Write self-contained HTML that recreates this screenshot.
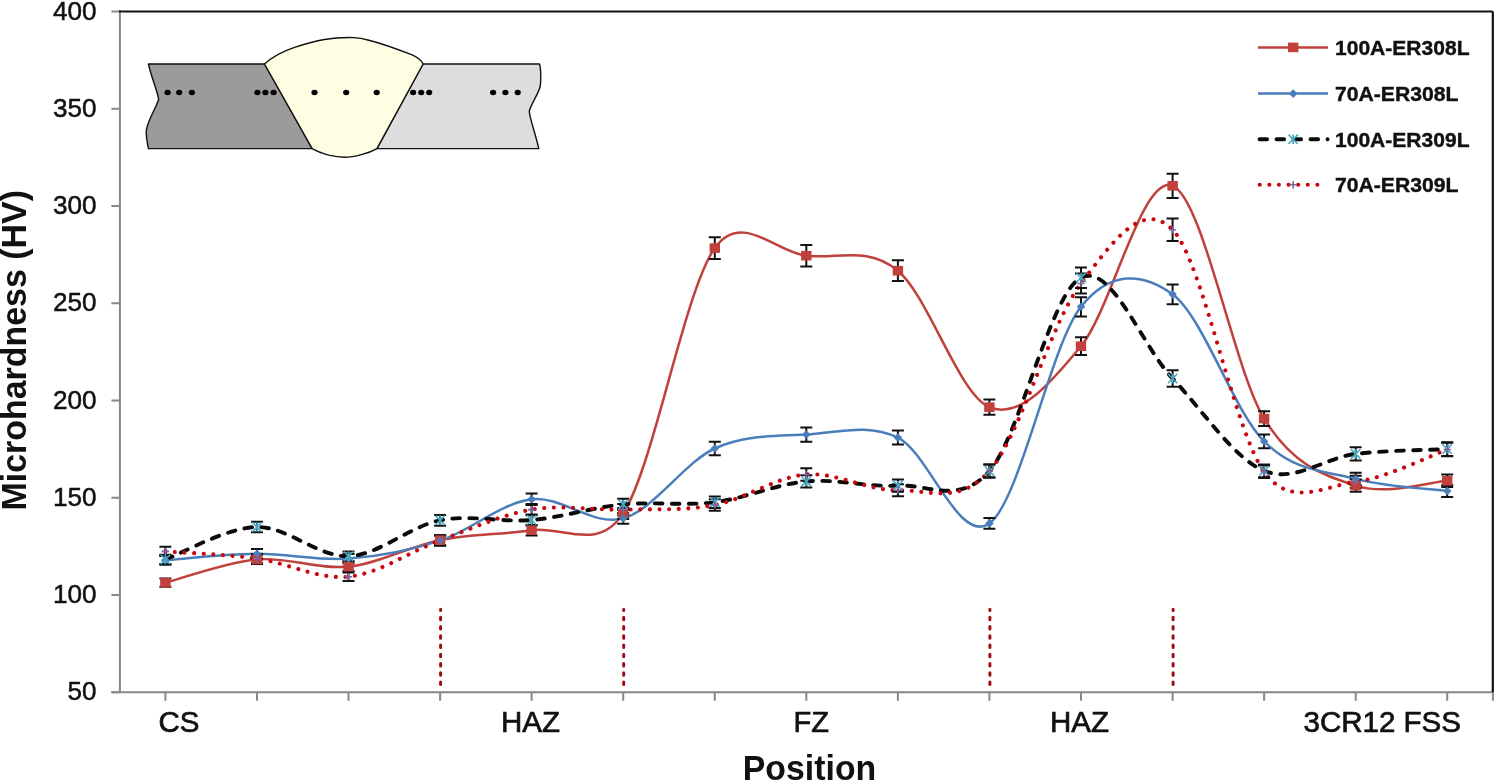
<!DOCTYPE html>
<html><head><meta charset="utf-8"><title>Microhardness</title>
<style>
html,body{margin:0;padding:0;background:#fff}
svg{display:block}
text{font-family:"Liberation Sans",sans-serif;fill:#111}
.b{font-weight:bold}
</style></head><body>
<svg width="1495" height="781" viewBox="0 0 1495 781">
<rect width="1495" height="781" fill="#fff"/>
<g stroke="#878787" stroke-width="2" fill="none">
<path d="M119.9 10.5V692.2M111.4 692.2H1493"/>
<path d="M111.4 692.2H120M111.4 595.0H120M111.4 497.7H120M111.4 400.5H120M111.4 303.2H120M111.4 206.0H120M111.4 108.8H120M111.4 11.5H120"/>
<path d="M165.4 692V700.8M257.0 692V700.8M348.5 692V700.8M440.1 692V700.8M531.6 692V700.8M623.2 692V700.8M714.8 692V700.8M806.3 692V700.8M897.9 692V700.8M989.4 692V700.8M1081.0 692V700.8M1172.6 692V700.8M1264.1 692V700.8M1355.7 692V700.8M1447.2 692V700.8M1492.9 692V700.8"/>
</g>
<path d="M119 11.5H1491.8Q1492.8 11.5 1492.8 12.5V692" stroke="#111" stroke-width="2.2" fill="none"/>
<text x="67.5" y="700.2" font-size="26.6" stroke="#111" stroke-width="0.5" textLength="29" lengthAdjust="spacingAndGlyphs">50</text>
<text x="53" y="603.0" font-size="26.6" stroke="#111" stroke-width="0.5" textLength="43.6" lengthAdjust="spacingAndGlyphs">100</text>
<text x="53" y="505.7" font-size="26.6" stroke="#111" stroke-width="0.5" textLength="43.6" lengthAdjust="spacingAndGlyphs">150</text>
<text x="53" y="408.5" font-size="26.6" stroke="#111" stroke-width="0.5" textLength="43.6" lengthAdjust="spacingAndGlyphs">200</text>
<text x="53" y="311.2" font-size="26.6" stroke="#111" stroke-width="0.5" textLength="43.6" lengthAdjust="spacingAndGlyphs">250</text>
<text x="53" y="214.0" font-size="26.6" stroke="#111" stroke-width="0.5" textLength="43.6" lengthAdjust="spacingAndGlyphs">300</text>
<text x="53" y="116.8" font-size="26.6" stroke="#111" stroke-width="0.5" textLength="43.6" lengthAdjust="spacingAndGlyphs">350</text>
<text x="53" y="19.5" font-size="26.6" stroke="#111" stroke-width="0.5" textLength="43.6" lengthAdjust="spacingAndGlyphs">400</text>
<text class="b" font-size="35.3" transform="translate(26.4 510.5) rotate(-90)" textLength="320.5" lengthAdjust="spacingAndGlyphs">Microhardness (HV)</text>
<text class="b" font-size="35.3" x="742.8" y="780.2" textLength="133.5" lengthAdjust="spacingAndGlyphs">Position</text>
<text x="158.5" y="731.6" font-size="30" stroke="#111" stroke-width="0.7" textLength="41.0" lengthAdjust="spacingAndGlyphs">CS</text>
<text x="501.0" y="731.6" font-size="30" stroke="#111" stroke-width="0.7" textLength="59.0" lengthAdjust="spacingAndGlyphs">HAZ</text>
<text x="793.5" y="731.6" font-size="30" stroke="#111" stroke-width="0.7" textLength="35.5" lengthAdjust="spacingAndGlyphs">FZ</text>
<text x="1050.0" y="731.6" font-size="30" stroke="#111" stroke-width="0.7" textLength="59.0" lengthAdjust="spacingAndGlyphs">HAZ</text>
<text x="1303.5" y="731.6" font-size="30" stroke="#111" stroke-width="0.7" textLength="157.5" lengthAdjust="spacingAndGlyphs">3CR12 FSS</text>
<g stroke="#111" stroke-width="1.4" stroke-linejoin="round">
<path d="M148.4 64H264.5L312.2 148.6H148.4C146.9 141 145.8 133 146.5 129.5C148 120 156 108 158.7 99.3C157 90 152 79 148.4 64Z" fill="#9b9b9b"/>
<path d="M423.1 64H539.5C541 68 541 80 540.3 86C539 93 531 104 529.3 111C529 116 535 132 538.8 148.6H376.9Z" fill="#dddddd"/>
<path d="M264.5 64C272 57 285 50.5 294.6 47.3C305 44 316 41 324.3 39.5C333 38 347 37.4 354 37.6C360 38 365 39.2 368.9 40.2C378 42.5 392 47 411.6 54.7C417 57 421.5 60.5 423.1 64L376.9 148.6C372 151.5 366 153.5 361.4 154.6C355 156.3 350 157.2 344.7 157.2C339 157.2 334 156.4 329.9 155.4C325 154 321 152.8 317.8 151.3C315.5 150.3 313.5 149 312.2 148.6Z" fill="#fffde2"/>
</g>
<ellipse cx="167.6" cy="92.5" rx="3.1" ry="2.7" fill="#000"/>
<ellipse cx="179.2" cy="92.5" rx="3.1" ry="2.7" fill="#000"/>
<ellipse cx="191.9" cy="92.5" rx="3.1" ry="2.7" fill="#000"/>
<ellipse cx="257.4" cy="92.5" rx="3.1" ry="2.7" fill="#000"/>
<ellipse cx="265.4" cy="92.5" rx="3.1" ry="2.7" fill="#000"/>
<ellipse cx="273.6" cy="92.5" rx="3.1" ry="2.7" fill="#000"/>
<ellipse cx="314.5" cy="92.5" rx="3.1" ry="2.7" fill="#000"/>
<ellipse cx="346.2" cy="92.5" rx="3.1" ry="2.7" fill="#000"/>
<ellipse cx="376.7" cy="92.5" rx="3.1" ry="2.7" fill="#000"/>
<ellipse cx="413.1" cy="92.5" rx="3.1" ry="2.7" fill="#000"/>
<ellipse cx="421.2" cy="92.5" rx="3.1" ry="2.7" fill="#000"/>
<ellipse cx="429.2" cy="92.5" rx="3.1" ry="2.7" fill="#000"/>
<ellipse cx="493.1" cy="92.5" rx="3.1" ry="2.7" fill="#000"/>
<ellipse cx="505.4" cy="92.5" rx="3.1" ry="2.7" fill="#000"/>
<ellipse cx="517.7" cy="92.5" rx="3.1" ry="2.7" fill="#000"/>
<path d="M440.6 684.5V609.2" stroke="#a00c14" stroke-width="3" stroke-linecap="round" stroke-dasharray="2.6 6.65" fill="none"/>
<path d="M623.7 684.5V609.2" stroke="#a00c14" stroke-width="3" stroke-linecap="round" stroke-dasharray="2.6 6.65" fill="none"/>
<path d="M989.9 684.5V609.2" stroke="#a00c14" stroke-width="3" stroke-linecap="round" stroke-dasharray="2.6 6.65" fill="none"/>
<path d="M1173.1 684.5V609.2" stroke="#a00c14" stroke-width="3" stroke-linecap="round" stroke-dasharray="2.6 6.65" fill="none"/>
<path d="M165.40 582.70 C180.66 578.82 226.44 562.08 256.96 559.40 C287.48 556.72 318.00 569.80 348.52 566.60 C379.04 563.40 409.56 546.27 440.08 540.20 C470.60 534.13 501.12 534.67 531.64 530.20 C562.16 525.73 597.86 552.44 623.20 513.40 C653.72 466.38 684.24 291.05 714.76 248.10 C741.37 210.65 775.80 251.93 806.32 255.70 C836.84 259.47 867.36 245.45 897.88 270.70 C928.40 295.95 958.92 394.62 989.44 407.20 C1019.96 419.78 1050.48 383.10 1081.00 346.20 C1111.52 309.30 1142.04 173.73 1172.56 185.80 C1203.08 197.87 1233.60 368.63 1264.12 418.60 C1293.69 467.01 1325.16 475.23 1355.68 485.60 C1386.20 495.97 1431.98 481.60 1447.24 480.80" stroke="#c0403c" stroke-width="2.5" fill="none"/>
<path d="M165.40 560.20 C180.66 559.13 226.44 554.07 256.96 553.80 C287.48 553.53 318.00 560.80 348.52 558.60 C379.04 556.40 409.56 550.48 440.08 540.60 C470.60 530.72 501.12 503.00 531.64 499.30 C562.16 495.60 592.68 526.87 623.20 518.40 C653.72 509.93 684.24 462.47 714.76 448.50 C745.28 434.53 775.80 436.42 806.32 434.60 C836.84 432.78 867.36 422.80 897.88 437.60 C928.40 452.40 958.92 545.20 989.44 523.40 C1019.96 501.60 1050.48 344.98 1081.00 306.80 C1109.85 270.71 1142.04 271.87 1172.56 294.30 C1203.08 316.73 1233.60 410.63 1264.12 441.40 C1294.64 472.17 1325.16 470.63 1355.68 478.90 C1386.20 487.17 1431.98 488.98 1447.24 491.00" stroke="#4a7ebb" stroke-width="2.5" fill="none"/>
<path d="M165.40 559.40 C180.66 554.00 226.44 527.53 256.96 527.00 C287.48 526.47 318.00 557.32 348.52 556.20 C379.04 555.08 409.56 526.33 440.08 520.30 C470.60 514.27 501.12 522.65 531.64 520.00 C562.16 517.35 592.68 507.37 623.20 504.40 C653.72 501.43 684.24 506.03 714.76 502.20 C745.28 498.37 775.80 484.17 806.32 481.40 C836.84 478.63 867.36 487.33 897.88 485.60 C928.40 483.87 958.92 505.65 989.44 471.00 C1019.96 436.35 1050.48 293.12 1081.00 277.70 C1111.52 262.28 1142.04 346.32 1172.56 378.50 C1203.08 410.68 1233.60 458.23 1264.12 470.80 C1294.64 483.37 1325.16 457.52 1355.68 453.90 C1386.20 450.28 1431.98 449.90 1447.24 449.10" stroke="#0a0a0a" stroke-width="3.9" stroke-linecap="round" stroke-dasharray="7.6 9.4" fill="none"/>
<path d="M165.40 551.40 C180.66 552.60 226.44 554.38 256.96 558.60 C287.48 562.82 318.00 579.73 348.52 576.70 C379.04 573.67 409.56 551.58 440.08 540.40 C470.60 529.22 501.12 514.73 531.64 509.60 C562.16 504.47 592.68 510.37 623.20 509.60 C653.72 508.83 684.24 510.85 714.76 505.00 C745.28 499.15 775.80 476.97 806.32 474.50 C836.84 472.03 867.36 490.78 897.88 490.20 C928.40 489.62 958.92 505.45 989.44 471.00 C1019.96 436.55 1050.48 323.72 1081.00 283.50 C1111.52 243.28 1142.04 198.32 1172.56 229.70 C1203.08 261.08 1233.60 429.78 1264.12 471.80 C1291.18 509.06 1325.16 485.52 1355.68 481.80 C1386.20 478.08 1431.98 454.88 1447.24 449.50" stroke="#c8080e" stroke-width="4.1" stroke-dasharray="0.01 9.6" stroke-linecap="round" fill="none"/>
<path d="M165.4 578.6V586.8M159.4 578.6H171.4M159.4 586.8H171.4M257.0 554.8V564.0M251.0 554.8H263.0M251.0 564.0H263.0M348.5 562.2V571.0M342.5 562.2H354.5M342.5 571.0H354.5M440.1 535.2V545.2M434.1 535.2H446.1M434.1 545.2H446.1M531.6 525.0V535.4M525.6 525.0H537.6M525.6 535.4H537.6M623.2 507.9V518.9M617.2 507.9H629.2M617.2 518.9H629.2M714.8 237.3V258.9M708.8 237.3H720.8M708.8 258.9H720.8M806.3 245.0V266.4M800.3 245.0H812.3M800.3 266.4H812.3M897.9 260.3V281.1M891.9 260.3H903.9M891.9 281.1H903.9M989.4 399.6V414.8M983.4 399.6H995.4M983.4 414.8H995.4M1081.0 337.3V355.1M1075.0 337.3H1087.0M1075.0 355.1H1087.0M1172.6 173.7V197.9M1166.6 173.7H1178.6M1166.6 197.9H1178.6M1264.1 411.2V426.0M1258.1 411.2H1270.1M1258.1 426.0H1270.1M1355.7 479.5V491.7M1349.7 479.5H1361.7M1349.7 491.7H1361.7M1447.2 474.6V487.0M1441.2 474.6H1453.2M1441.2 487.0H1453.2" stroke="#111" stroke-width="2.0" fill="none"/>
<path d="M165.4 555.6V564.8M159.4 555.6H171.4M159.4 564.8H171.4M257.0 549.1V558.5M251.0 549.1H263.0M251.0 558.5H263.0M348.5 554.0V563.2M342.5 554.0H354.5M342.5 563.2H354.5M440.1 535.6V545.6M434.1 535.6H446.1M434.1 545.6H446.1M531.6 493.5V505.1M525.6 493.5H537.6M525.6 505.1H537.6M623.2 513.0V523.8M617.2 513.0H629.2M617.2 523.8H629.2M714.8 441.7V455.3M708.8 441.7H720.8M708.8 455.3H720.8M806.3 427.5V441.7M800.3 427.5H812.3M800.3 441.7H812.3M897.9 430.6V444.6M891.9 430.6H903.9M891.9 444.6H903.9M989.4 518.1V528.7M983.4 518.1H995.4M983.4 528.7H995.4M1081.0 297.2V316.4M1075.0 297.2H1087.0M1075.0 316.4H1087.0M1172.6 284.4V304.2M1166.6 284.4H1178.6M1166.6 304.2H1178.6M1264.1 434.5V448.3M1258.1 434.5H1270.1M1258.1 448.3H1270.1M1355.7 472.7V485.1M1349.7 472.7H1361.7M1349.7 485.1H1361.7M1447.2 485.0V497.0M1441.2 485.0H1453.2M1441.2 497.0H1453.2" stroke="#111" stroke-width="2.0" fill="none"/>
<path d="M165.4 554.8V564.0M159.4 554.8H171.4M159.4 564.0H171.4M257.0 521.8V532.2M251.0 521.8H263.0M251.0 532.2H263.0M348.5 551.5V560.9M342.5 551.5H354.5M342.5 560.9H354.5M440.1 514.9V525.7M434.1 514.9H446.1M434.1 525.7H446.1M531.6 514.6V525.4M525.6 514.6H537.6M525.6 525.4H537.6M623.2 498.7V510.1M617.2 498.7H629.2M617.2 510.1H629.2M714.8 496.5V507.9M708.8 496.5H720.8M708.8 507.9H720.8M806.3 475.3V487.5M800.3 475.3H812.3M800.3 487.5H812.3M897.9 479.5V491.7M891.9 479.5H903.9M891.9 491.7H903.9M989.4 464.6V477.4M983.4 464.6H995.4M983.4 477.4H995.4M1081.0 267.5V287.9M1075.0 267.5H1087.0M1075.0 287.9H1087.0M1172.6 370.3V386.7M1166.6 370.3H1178.6M1166.6 386.7H1178.6M1264.1 464.4V477.2M1258.1 464.4H1270.1M1258.1 477.2H1270.1M1355.7 447.2V460.6M1349.7 447.2H1361.7M1349.7 460.6H1361.7M1447.2 442.3V455.9M1441.2 442.3H1453.2M1441.2 455.9H1453.2" stroke="#111" stroke-width="2.0" fill="none"/>
<path d="M165.4 546.7V556.1M159.4 546.7H171.4M159.4 556.1H171.4M257.0 554.0V563.2M251.0 554.0H263.0M251.0 563.2H263.0M348.5 572.5V580.9M342.5 572.5H354.5M342.5 580.9H354.5M440.1 535.4V545.4M434.1 535.4H446.1M434.1 545.4H446.1M531.6 504.0V515.2M525.6 504.0H537.6M525.6 515.2H537.6M623.2 504.0V515.2M617.2 504.0H629.2M617.2 515.2H629.2M714.8 499.3V510.7M708.8 499.3H720.8M708.8 510.7H720.8M806.3 468.2V480.8M800.3 468.2H812.3M800.3 480.8H812.3M897.9 484.2V496.2M891.9 484.2H903.9M891.9 496.2H903.9M989.4 464.6V477.4M983.4 464.6H995.4M983.4 477.4H995.4M1081.0 273.4V293.6M1075.0 273.4H1087.0M1075.0 293.6H1087.0M1172.6 218.5V240.9M1166.6 218.5H1178.6M1166.6 240.9H1178.6M1264.1 465.5V478.1M1258.1 465.5H1270.1M1258.1 478.1H1270.1M1355.7 475.7V487.9M1349.7 475.7H1361.7M1349.7 487.9H1361.7M1447.2 442.7V456.3M1441.2 442.7H1453.2M1441.2 456.3H1453.2" stroke="#111" stroke-width="2.0" fill="none"/>
<rect x="160.2" y="577.9" width="10.4" height="9.6" fill="#c0403c"/>
<rect x="251.8" y="554.6" width="10.4" height="9.6" fill="#c0403c"/>
<rect x="343.3" y="561.8" width="10.4" height="9.6" fill="#c0403c"/>
<rect x="434.9" y="535.4" width="10.4" height="9.6" fill="#c0403c"/>
<rect x="526.4" y="525.4" width="10.4" height="9.6" fill="#c0403c"/>
<rect x="618.0" y="508.6" width="10.4" height="9.6" fill="#c0403c"/>
<rect x="709.6" y="243.3" width="10.4" height="9.6" fill="#c0403c"/>
<rect x="801.1" y="250.9" width="10.4" height="9.6" fill="#c0403c"/>
<rect x="892.7" y="265.9" width="10.4" height="9.6" fill="#c0403c"/>
<rect x="984.2" y="402.4" width="10.4" height="9.6" fill="#c0403c"/>
<rect x="1075.8" y="341.4" width="10.4" height="9.6" fill="#c0403c"/>
<rect x="1167.4" y="181.0" width="10.4" height="9.6" fill="#c0403c"/>
<rect x="1258.9" y="413.8" width="10.4" height="9.6" fill="#c0403c"/>
<rect x="1350.5" y="480.8" width="10.4" height="9.6" fill="#c0403c"/>
<rect x="1442.0" y="476.0" width="10.4" height="9.6" fill="#c0403c"/>
<path d="M165.4 555.9L169.7 560.2L165.4 564.5L161.1 560.2Z" fill="#4a7ebb"/>
<path d="M257.0 549.5L261.3 553.8L257.0 558.1L252.7 553.8Z" fill="#4a7ebb"/>
<path d="M348.5 554.3L352.8 558.6L348.5 562.9L344.2 558.6Z" fill="#4a7ebb"/>
<path d="M440.1 536.3L444.4 540.6L440.1 544.9L435.8 540.6Z" fill="#4a7ebb"/>
<path d="M531.6 495.0L535.9 499.3L531.6 503.6L527.3 499.3Z" fill="#4a7ebb"/>
<path d="M623.2 514.1L627.5 518.4L623.2 522.7L618.9 518.4Z" fill="#4a7ebb"/>
<path d="M714.8 444.2L719.1 448.5L714.8 452.8L710.5 448.5Z" fill="#4a7ebb"/>
<path d="M806.3 430.3L810.6 434.6L806.3 438.9L802.0 434.6Z" fill="#4a7ebb"/>
<path d="M897.9 433.3L902.2 437.6L897.9 441.9L893.6 437.6Z" fill="#4a7ebb"/>
<path d="M989.4 519.1L993.7 523.4L989.4 527.7L985.1 523.4Z" fill="#4a7ebb"/>
<path d="M1081.0 302.5L1085.3 306.8L1081.0 311.1L1076.7 306.8Z" fill="#4a7ebb"/>
<path d="M1172.6 290.0L1176.9 294.3L1172.6 298.6L1168.3 294.3Z" fill="#4a7ebb"/>
<path d="M1264.1 437.1L1268.4 441.4L1264.1 445.7L1259.8 441.4Z" fill="#4a7ebb"/>
<path d="M1355.7 474.6L1360.0 478.9L1355.7 483.2L1351.4 478.9Z" fill="#4a7ebb"/>
<path d="M1447.2 486.7L1451.5 491.0L1447.2 495.3L1442.9 491.0Z" fill="#4a7ebb"/>
<path d="M160.7 554.7L170.1 564.1M160.7 564.1L170.1 554.7M165.4 554.7V564.1" stroke="#46aac5" stroke-width="1.6" fill="none"/>
<path d="M252.3 522.3L261.7 531.7M252.3 531.7L261.7 522.3M257.0 522.3V531.7" stroke="#46aac5" stroke-width="1.6" fill="none"/>
<path d="M343.8 551.5L353.2 560.9M343.8 560.9L353.2 551.5M348.5 551.5V560.9" stroke="#46aac5" stroke-width="1.6" fill="none"/>
<path d="M435.4 515.6L444.8 525.0M435.4 525.0L444.8 515.6M440.1 515.6V525.0" stroke="#46aac5" stroke-width="1.6" fill="none"/>
<path d="M526.9 515.3L536.3 524.7M526.9 524.7L536.3 515.3M531.6 515.3V524.7" stroke="#46aac5" stroke-width="1.6" fill="none"/>
<path d="M618.5 499.7L627.9 509.1M618.5 509.1L627.9 499.7M623.2 499.7V509.1" stroke="#46aac5" stroke-width="1.6" fill="none"/>
<path d="M710.1 497.5L719.5 506.9M710.1 506.9L719.5 497.5M714.8 497.5V506.9" stroke="#46aac5" stroke-width="1.6" fill="none"/>
<path d="M801.6 476.7L811.0 486.1M801.6 486.1L811.0 476.7M806.3 476.7V486.1" stroke="#46aac5" stroke-width="1.6" fill="none"/>
<path d="M893.2 480.9L902.6 490.3M893.2 490.3L902.6 480.9M897.9 480.9V490.3" stroke="#46aac5" stroke-width="1.6" fill="none"/>
<path d="M984.7 466.3L994.1 475.7M984.7 475.7L994.1 466.3M989.4 466.3V475.7" stroke="#46aac5" stroke-width="1.6" fill="none"/>
<path d="M1076.3 273.0L1085.7 282.4M1076.3 282.4L1085.7 273.0M1081.0 273.0V282.4" stroke="#46aac5" stroke-width="1.6" fill="none"/>
<path d="M1167.9 373.8L1177.3 383.2M1167.9 383.2L1177.3 373.8M1172.6 373.8V383.2" stroke="#46aac5" stroke-width="1.6" fill="none"/>
<path d="M1259.4 466.1L1268.8 475.5M1259.4 475.5L1268.8 466.1M1264.1 466.1V475.5" stroke="#46aac5" stroke-width="1.6" fill="none"/>
<path d="M1351.0 449.2L1360.4 458.6M1351.0 458.6L1360.4 449.2M1355.7 449.2V458.6" stroke="#46aac5" stroke-width="1.6" fill="none"/>
<path d="M1442.5 444.4L1451.9 453.8M1442.5 453.8L1451.9 444.4M1447.2 444.4V453.8" stroke="#46aac5" stroke-width="1.6" fill="none"/>
<path d="M161.8 551.4H169.0M165.4 547.8V555.0" stroke="#8064a2" stroke-width="1.6" fill="none"/>
<path d="M253.4 558.6H260.6M257.0 555.0V562.2" stroke="#8064a2" stroke-width="1.6" fill="none"/>
<path d="M344.9 576.7H352.1M348.5 573.1V580.3" stroke="#8064a2" stroke-width="1.6" fill="none"/>
<path d="M436.5 540.4H443.7M440.1 536.8V544.0" stroke="#8064a2" stroke-width="1.6" fill="none"/>
<path d="M528.0 509.6H535.2M531.6 506.0V513.2" stroke="#8064a2" stroke-width="1.6" fill="none"/>
<path d="M619.6 509.6H626.8M623.2 506.0V513.2" stroke="#8064a2" stroke-width="1.6" fill="none"/>
<path d="M711.2 505.0H718.4M714.8 501.4V508.6" stroke="#8064a2" stroke-width="1.6" fill="none"/>
<path d="M802.7 474.5H809.9M806.3 470.9V478.1" stroke="#8064a2" stroke-width="1.6" fill="none"/>
<path d="M894.3 490.2H901.5M897.9 486.6V493.8" stroke="#8064a2" stroke-width="1.6" fill="none"/>
<path d="M985.8 471.0H993.0M989.4 467.4V474.6" stroke="#8064a2" stroke-width="1.6" fill="none"/>
<path d="M1077.4 283.5H1084.6M1081.0 279.9V287.1" stroke="#8064a2" stroke-width="1.6" fill="none"/>
<path d="M1169.0 229.7H1176.2M1172.6 226.1V233.3" stroke="#8064a2" stroke-width="1.6" fill="none"/>
<path d="M1260.5 471.8H1267.7M1264.1 468.2V475.4" stroke="#8064a2" stroke-width="1.6" fill="none"/>
<path d="M1352.1 481.8H1359.3M1355.7 478.2V485.4" stroke="#8064a2" stroke-width="1.6" fill="none"/>
<path d="M1443.6 449.5H1450.8M1447.2 445.9V453.1" stroke="#8064a2" stroke-width="1.6" fill="none"/>
<path d="M1258 47.4H1328" stroke="#c0403c" stroke-width="2.5"/>
<rect x="1288.0" y="42.6" width="10.4" height="9.6" fill="#c0403c"/>
<path d="M1258 93.6H1328" stroke="#4a7ebb" stroke-width="2.5"/>
<path d="M1293.2 89.3L1297.5 93.6L1293.2 97.9L1288.9 93.6Z" fill="#4a7ebb"/>
<path d="M1259.5 139.3H1327.6" stroke="#0a0a0a" stroke-width="3.9" stroke-linecap="round" stroke-dasharray="7.6 9.4"/>
<path d="M1288.5 134.6L1297.9 144.0M1288.5 144.0L1297.9 134.6M1293.2 134.6V144.0" stroke="#46aac5" stroke-width="1.6" fill="none"/>
<path d="M1259.7 184.8H1322" stroke="#c8080e" stroke-width="4.1" stroke-dasharray="0.01 9.6" stroke-linecap="round"/>
<path d="M1289.6 184.8H1296.8M1293.2 181.2V188.4" stroke="#8064a2" stroke-width="1.6" fill="none"/>
<text class="b" x="1335" y="54.6" font-size="20.6" stroke="#111" stroke-width="0.4" textLength="134.5" lengthAdjust="spacingAndGlyphs">100A-ER308L</text>
<text class="b" x="1335" y="100.8" font-size="20.6" stroke="#111" stroke-width="0.4" textLength="123.5" lengthAdjust="spacingAndGlyphs">70A-ER308L</text>
<text class="b" x="1335" y="146.5" font-size="20.6" stroke="#111" stroke-width="0.4" textLength="134.5" lengthAdjust="spacingAndGlyphs">100A-ER309L</text>
<text class="b" x="1335" y="192.0" font-size="20.6" stroke="#111" stroke-width="0.4" textLength="123.5" lengthAdjust="spacingAndGlyphs">70A-ER309L</text>
</svg></body></html>
